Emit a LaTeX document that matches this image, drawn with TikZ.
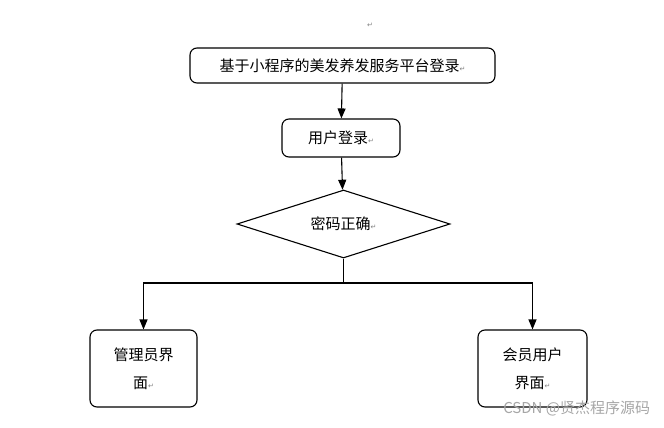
\documentclass[tikz,border=0pt]{standalone}
\usepackage{fontspec}
\newfontfamily\cjk{Noto Sans CJK SC}
\newfontfamily\dejav{DejaVu Sans}
\usetikzlibrary{shapes.geometric,arrows.meta}
\newcommand{\rt}{{\dejav\fontsize{7}{7}\selectfont\color{gray}↵}}
\begin{document}
\begin{tikzpicture}[x=1pt,y=-1pt,line width=1.1pt,
  box/.style={draw,rounded corners=7pt,font=\cjk\fontsize{15}{18}\selectfont,inner sep=0pt},
  arr/.style={-{Triangle[length=10pt,width=8pt]}}]
\useasboundingbox (0,0) rectangle (664,428);
\node at (370,25) {\rt};
\node[box,minimum width=305pt,minimum height=35pt] (a) at (342.5,65.5) {基于小程序的美发养发服务平台登录\rt};
\node[box,minimum width=118pt,minimum height=38pt] (b) at (341,138) {用户登录\rt};
\node[draw,diamond,aspect=3.1,minimum width=213pt,minimum height=68pt,inner sep=0pt,font=\cjk\fontsize{15}{18}\selectfont] (c) at (343.5,224) {密码正确\rt};
\node[box,minimum width=107pt,minimum height=77pt,align=center] (d) at (143.5,368.5) {管理员界\\[10pt]面\rt};
\node[box,minimum width=109pt,minimum height=77pt,align=center] (e) at (532.5,368.5) {会员用户\\[10pt]界面\rt};
\coordinate (j) at (343.5,283);
\draw[arr] (a) -- (b);
\draw[arr] (b) -- (c);
\draw (c.south) -- (j);
\draw[arr] (j) -| (d.north);
\draw[arr] (j) -| (e.north);
\node[font=\cjk\fontsize{15}{17}\selectfont,text=gray!70,anchor=east] (w) at (654,408) {CSDN @贤杰程序源码};
\end{tikzpicture}
\end{document}
